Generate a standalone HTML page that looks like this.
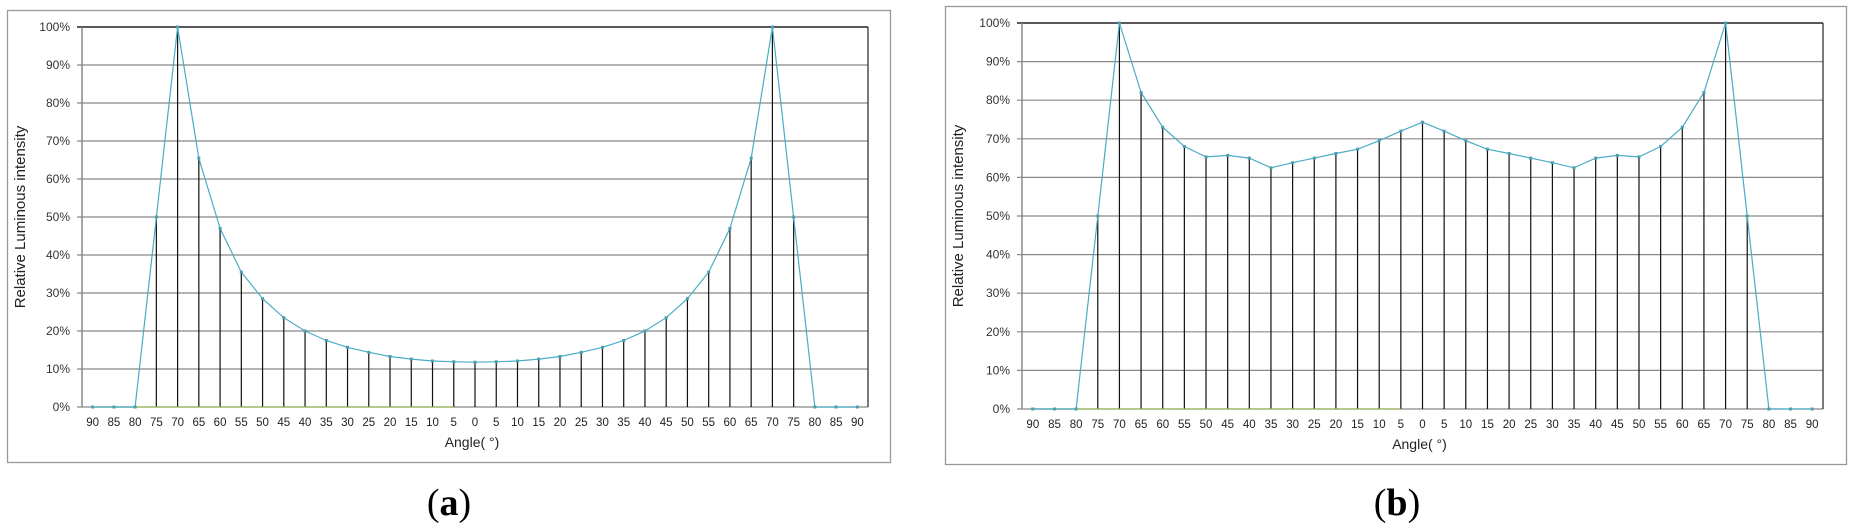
<!DOCTYPE html>
<html><head><meta charset="utf-8"><style>
html,body{margin:0;padding:0;background:#fff;}
svg{display:block;font-family:"Liberation Sans",sans-serif;}
</style></head><body>
<svg id="s" width="1852" height="528" xmlns="http://www.w3.org/2000/svg"></svg>
<script>
const s=document.getElementById('s');
let h='';
const ang=[];for(let i=0;i<37;i++){ang.push(Math.abs(90-5*i));}
function chart(box,pl,half,lab,lx){
  const [bx0,by0,bx1,by1]=box,[x0,y0,x1,y1]=pl;
  h+=`<rect x="${bx0+.5}" y="${by0+.5}" width="${bx1-bx0}" height="${by1-by0}" fill="#fff" stroke="#999" stroke-width="1.3"/>`;
  const H=y1-y0,W=x1-x0,dx=W/37;
  for(let k=0;k<=10;k++){const y=y1-H*k/10;
    h+=`<line x1="${x0-5}" x2="${x1}" y1="${y}" y2="${y}" stroke="${k==10?'#222':'#888'}" stroke-width="${k==10?1.5:1.2}"/>`;
    h+=`<text x="${x0-12}" y="${y+4}" font-size="12" fill="#333" text-anchor="end">${k*10}%</text>`;}
  h+=`<line x1="${x0}" x2="${x0}" y1="${y0}" y2="${y1}" stroke="#888" stroke-width="1.5"/>`;
  h+=`<line x1="${x1}" x2="${x1}" y1="${y0}" y2="${y1}" stroke="#222" stroke-width="1.2"/>`;
  const vals=[0,0,0].concat(half).concat(half.slice(0,-1).reverse()).concat([0,0,0]);
  const pts=[];
  vals.forEach((v,i)=>{const x=x0+dx*(i+.5),y=y1-H*v/100;pts.push(x.toFixed(1)+','+y.toFixed(1));
    if(i>=3&&i<=33)h+=`<line x1="${x}" x2="${x}" y1="${y}" y2="${y1}" stroke="#111" stroke-width="1.2"/>`;
    h+=`<text x="${x}" y="${y1+19}" font-size="11.5" fill="#222" text-anchor="middle">${ang[i]}</text>`;});
  h+=`<line x1="${x0+dx*.5}" x2="${x0+dx*17.5}" y1="${y1}" y2="${y1}" stroke="#9bbb59" stroke-width="1.2"/>`;
  h+=`<polyline points="${pts.join(' ')}" fill="none" stroke="#4bacc6" stroke-width="1.2"/>`;
  pts.forEach(p=>{const [x,y]=p.split(',');h+=`<rect x="${x-1.5}" y="${y-1.5}" width="3" height="3" fill="#4a9fb0"/>`;});
  const cy=(y0+y1)/2;
  h+=`<text transform="translate(${bx0+18},${cy}) rotate(-90)" font-size="15" fill="#222" text-anchor="middle">Relative Luminous  intensity</text>`;
  h+=`<text x="${(x0+x1)/2-3}" y="${y1+40}" font-size="14" fill="#222" text-anchor="middle">Angle( °)</text>`;
  h+=`<text x="${lx}" y="515" font-size="38" font-family="Liberation Serif,serif" text-anchor="middle">(<tspan font-weight="bold">${lab}</tspan>)</text>`;
}
chart([7,10,890,462],[82,27,868,407],[50,100,65.5,47,35.5,28.5,23.5,20,17.5,15.7,14.4,13.3,12.6,12.1,11.9,11.8],'a',449);
chart([945,6,1846,464],[1022,23,1823,409],[50,100,82,73,68,65.3,65.7,65,62.5,63.8,65,66.2,67.3,69.5,72,74.3],'b',1397);
s.innerHTML=h;
</script>
</body></html>
